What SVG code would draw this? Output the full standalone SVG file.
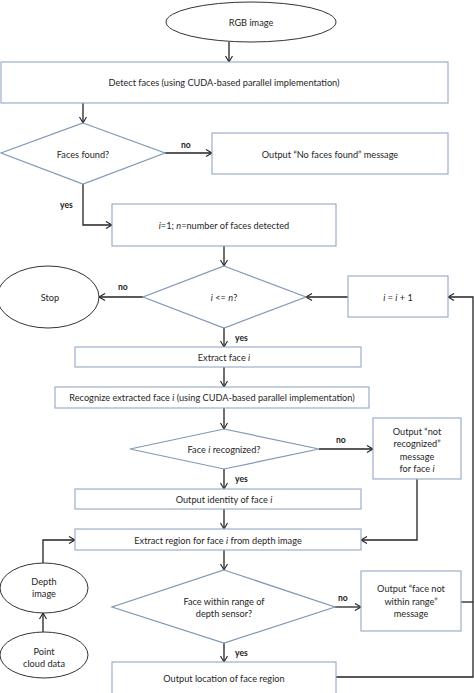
<svg xmlns="http://www.w3.org/2000/svg" width="474" height="693" viewBox="0 0 474 693">
<defs>
<marker id="ah" markerUnits="userSpaceOnUse" markerWidth="10" markerHeight="10" refX="7" refY="4" orient="auto">
<path d="M1,0.5 L7,4 L1,7.5" fill="none" stroke="#222" stroke-width="1.1"/>
</marker>
<style>
.box{fill:#fff;stroke:#9bb0c8;stroke-width:1.2}
.dia{fill:#fff;stroke:#7f98b4;stroke-width:1.2}
.ell{fill:#fff;stroke:#333;stroke-width:1}
.t{font-family:Lato,"Liberation Sans",sans-serif;font-size:9.2px;fill:#262626;text-anchor:middle;dominant-baseline:central}
.lb{font-family:Lato,"Liberation Sans",sans-serif;font-size:8.6px;font-weight:bold;fill:#222;dominant-baseline:central}
.c{fill:none;stroke:#222;stroke-width:1.3}
.ca{fill:none;stroke:#222;stroke-width:1.3;marker-end:url(#ah)}
</style>
</defs>
<rect width="474" height="693" fill="#fff"/>
<g id="connectors">
<line class="ca" x1="229" y1="42" x2="229" y2="62"/>
<line class="ca" x1="83" y1="103" x2="83" y2="123"/>
<line class="ca" x1="165" y1="153" x2="212" y2="153"/>
<path class="ca" d="M83,184 V225 H112"/>
<line class="ca" x1="224" y1="246" x2="224" y2="266"/>
<line class="ca" x1="143" y1="297" x2="99" y2="297"/>
<line class="ca" x1="348" y1="297" x2="306" y2="297"/>
<path class="ca" d="M336,677 H473 V297 H448"/>
<path class="c" d="M461,602 H473"/>
<line class="ca" x1="224" y1="328" x2="224" y2="347"/>
<line class="ca" x1="224" y1="367" x2="224" y2="387"/>
<line class="ca" x1="224" y1="408" x2="224" y2="429"/>
<line class="ca" x1="319" y1="449" x2="373" y2="449"/>
<path class="ca" d="M417,479 V540 H361"/>
<line class="ca" x1="224" y1="469" x2="224" y2="489"/>
<line class="ca" x1="224" y1="509" x2="224" y2="529"/>
<path class="ca" d="M43,563 V540 H75"/>
<line class="ca" x1="43" y1="632" x2="43" y2="613"/>
<line class="ca" x1="224" y1="550" x2="224" y2="570"/>
<line class="ca" x1="335" y1="607" x2="361" y2="607"/>
<line class="ca" x1="224" y1="643" x2="224" y2="662"/>
<text class="lb" x="181" y="145">no</text>
<text class="lb" x="60" y="205">yes</text>
<text class="lb" x="118" y="287">no</text>
<text class="lb" x="235" y="338">yes</text>
<text class="lb" x="336" y="440">no</text>
<text class="lb" x="235" y="479">yes</text>
<text class="lb" x="338" y="598">no</text>
<text class="lb" x="235" y="653">yes</text>
</g>
<g id="rgb"><ellipse class="ell" cx="251" cy="22" rx="85" ry="20"/><text class="t" x="251" y="22">RGB image</text></g>
<g id="detect"><rect class="box" x="1" y="62" width="447" height="41"/><text class="t" x="224" y="82">Detect faces (using CUDA-based parallel implementation)</text></g>
<g id="facesfound"><polygon class="dia" points="83,123 165,153 83,184 1,153"/><text class="t" x="83" y="154">Faces found?</text></g>
<g id="nofaces"><rect class="box" x="212" y="133" width="236" height="41"/><text class="t" x="330" y="154">Output “No faces found” message</text></g>
<g id="init"><rect class="box" x="112" y="204" width="224" height="42"/><text class="t" x="224" y="225"><tspan font-style="italic">i</tspan>=1; <tspan font-style="italic">n</tspan>=number of faces detected</text></g>
<g id="cond"><polygon class="dia" points="224,266 306,297 224,328 143,297"/><text class="t" x="224" y="297"><tspan font-style="italic">i</tspan> &lt;= <tspan font-style="italic">n</tspan>?</text></g>
<g id="stop"><ellipse class="ell" cx="48" cy="297" rx="51" ry="31"/><text class="t" x="50" y="297">Stop</text></g>
<g id="incr"><rect class="box" x="348" y="276" width="100" height="41"/><text class="t" x="398" y="297"><tspan font-style="italic">i</tspan> = <tspan font-style="italic">i</tspan> + 1</text></g>
<g id="extract"><rect class="box" x="75" y="347" width="286" height="20"/><text class="t" x="224" y="357">Extract face <tspan font-style="italic">i</tspan></text></g>
<g id="recognize"><rect class="box" x="55" y="387" width="314" height="21"/><text class="t" x="212" y="397">Recognize extracted face <tspan font-style="italic">i</tspan> (using CUDA-based parallel implementation)</text></g>
<g id="recognized"><polygon class="dia" points="224,429 319,449 224,469 130,449"/><text class="t" x="224" y="449">Face <tspan font-style="italic">i</tspan> recognized?</text></g>
<g id="notrec"><rect class="box" x="373" y="418" width="88" height="61"/>
<text class="t" x="417" y="431">Output “not</text>
<text class="t" x="417" y="443">recognized”</text>
<text class="t" x="417" y="456">message</text>
<text class="t" x="417" y="468">for face <tspan font-style="italic">i</tspan></text></g>
<g id="identity"><rect class="box" x="75" y="489" width="286" height="20"/><text class="t" x="224" y="499">Output identity of face <tspan font-style="italic">i</tspan></text></g>
<g id="region"><rect class="box" x="75" y="529" width="286" height="21"/><text class="t" x="218" y="540">Extract region for face <tspan font-style="italic">i</tspan> from depth image</text></g>
<g id="depth"><ellipse class="ell" cx="44" cy="588" rx="44" ry="25"/><text class="t" x="44" y="581">Depth</text><text class="t" x="44" y="593">image</text></g>
<g id="cloud"><ellipse class="ell" cx="44" cy="655" rx="44" ry="23"/><text class="t" x="44" y="651">Point</text><text class="t" x="44" y="663">cloud data</text></g>
<g id="range"><polygon class="dia" points="224,570 335,607 224,643 112,607"/><text class="t" x="224" y="601">Face within range of</text><text class="t" x="224" y="613">depth sensor?</text></g>
<g id="notrange"><rect class="box" x="361" y="571" width="100" height="60"/>
<text class="t" x="411" y="588">Output “face not</text>
<text class="t" x="411" y="601">within range”</text>
<text class="t" x="411" y="613">message</text></g>
<g id="location"><rect class="box" x="112" y="662" width="224" height="40"/><text class="t" x="224" y="678">Output location of face region</text></g>
</svg>
